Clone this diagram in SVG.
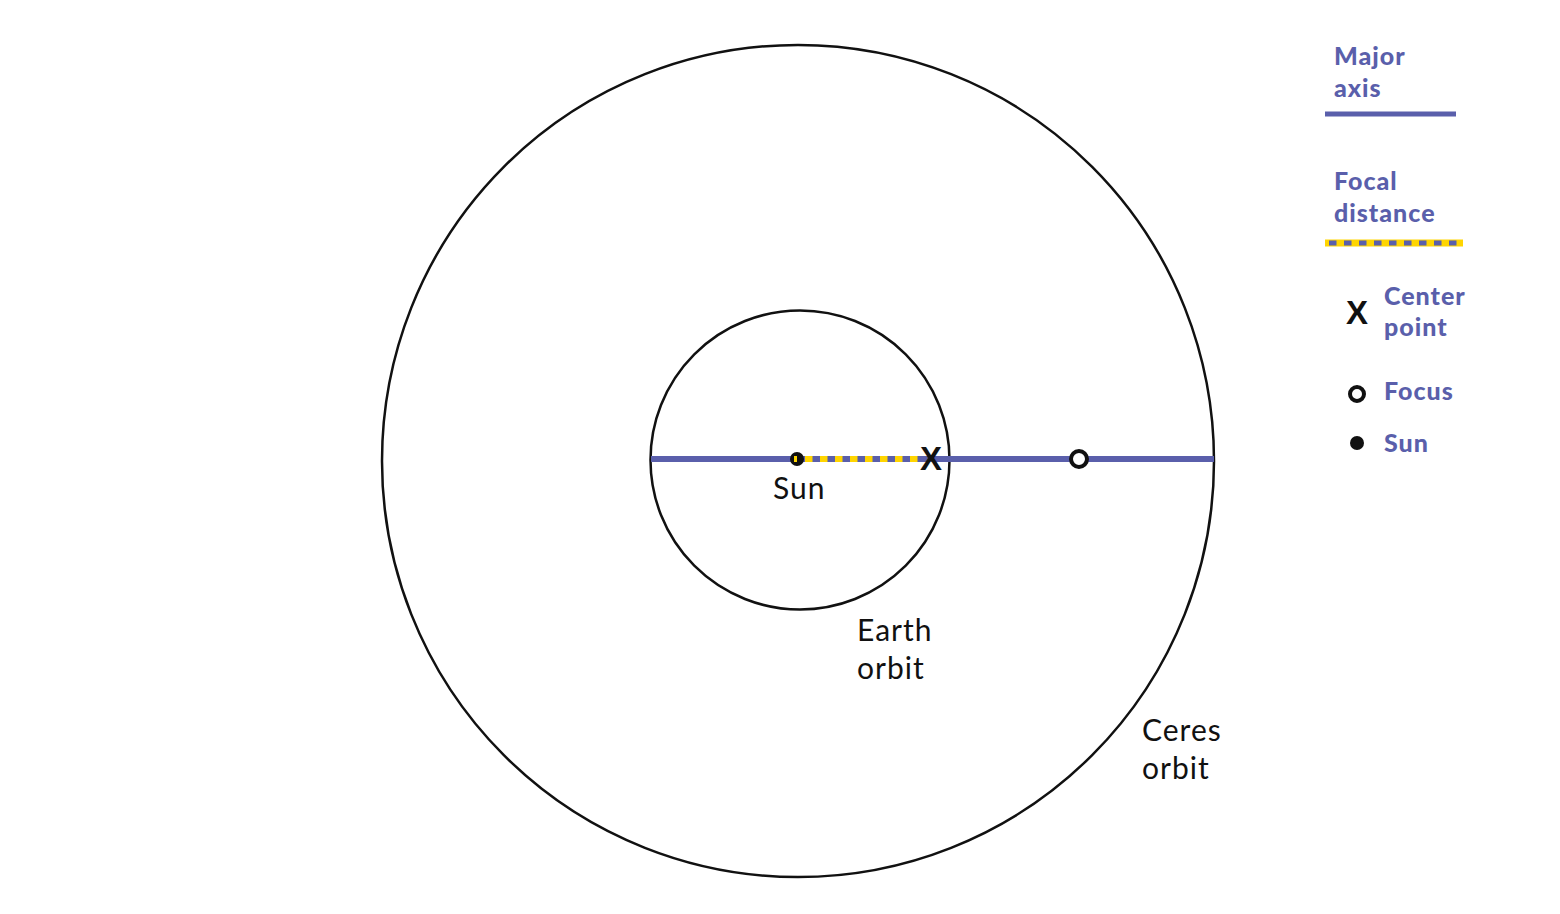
<svg xmlns="http://www.w3.org/2000/svg" width="1560" height="914" viewBox="0 0 1560 914">
<style>
.orbit{fill:none;stroke:#111;stroke-width:2.5}
.axis{stroke:#5a5fab;stroke-width:6;fill:none}
.fd{stroke:#ffd500;stroke-width:6;stroke-dasharray:7.5 7.5;fill:none}
.lbl{font-family:Lato,"Open Sans",sans-serif;font-size:30px;letter-spacing:1px;fill:#111}
.leg{font-family:Lato,"Open Sans",sans-serif;font-size:25px;font-weight:900;letter-spacing:1px;fill:#5a5fab}
.mark{font-family:"Liberation Sans",Arial,sans-serif;font-weight:bold;fill:#111}
</style>
<rect width="1560" height="914" fill="#fff"/>
<g id="ceres-orbit">
<circle class="orbit" cx="798" cy="461" r="416"/>
<text class="lbl" x="1142" y="741">Ceres</text>
<text class="lbl" x="1142" y="779">orbit</text>
</g>
<g id="earth-orbit">
<circle class="orbit" cx="800" cy="460" r="149.5"/>
<text class="lbl" x="857" y="641">Earth</text>
<text class="lbl" x="857" y="679">orbit</text>
</g>
<g id="connectors">
<line id="major-axis" class="axis" x1="651" y1="459" x2="1214" y2="459"/>
<line id="focal-distance" class="fd" x1="805" y1="459" x2="920" y2="459"/>
</g>
<g id="sun">
<circle cx="797" cy="459" r="7" fill="#111"/>
<rect x="794" y="456" width="3" height="6" fill="#ffd500"/>
<text class="lbl" x="773" y="499">Sun</text>
</g>
<g id="center-point">
<text class="mark" x="931" y="470" font-size="33" text-anchor="middle">X</text>
</g>
<g id="focus">
<circle cx="1079" cy="459" r="8" fill="#fff" stroke="#111" stroke-width="4"/>
</g>
<g id="legend-major-axis">
<text class="leg" x="1334" y="65">Major</text>
<text class="leg" x="1334" y="97">axis</text>
<line x1="1325" y1="114" x2="1456" y2="114" stroke="#5a5fab" stroke-width="5"/>
</g>
<g id="legend-focal-distance">
<text class="leg" x="1334" y="190">Focal</text>
<text class="leg" x="1334" y="222">distance</text>
<line x1="1325" y1="243" x2="1463" y2="243" stroke="#ffd500" stroke-width="7"/>
<line x1="1329" y1="243" x2="1459" y2="243" stroke="#5a5fab" stroke-width="5" stroke-dasharray="7.5 7.5"/>
</g>
<g id="legend-center">
<text class="mark" x="1357" y="324" font-size="33" text-anchor="middle">X</text>
<text class="leg" x="1384" y="305">Center</text>
<text class="leg" x="1384" y="336">point</text>
</g>
<g id="legend-focus">
<circle cx="1357" cy="394" r="7" fill="#fff" stroke="#111" stroke-width="4"/>
<text class="leg" x="1384" y="400">Focus</text>
</g>
<g id="legend-sun">
<circle cx="1357" cy="443" r="7" fill="#111"/>
<text class="leg" x="1384" y="452">Sun</text>
</g>
</svg>
